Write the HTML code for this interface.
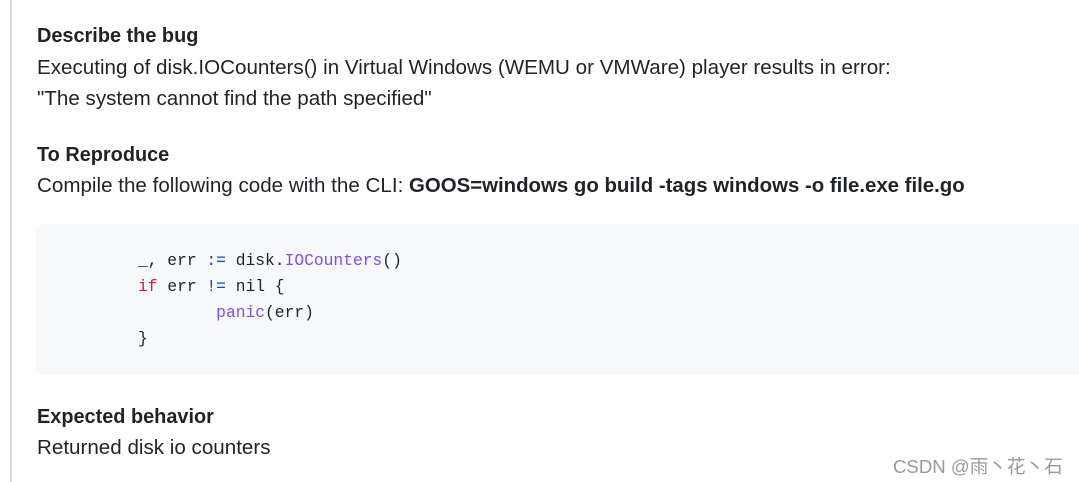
<!DOCTYPE html>
<html><head><meta charset="utf-8"><style>
body{margin:0;width:1079px;height:482px;background:#fff;position:relative;overflow:hidden;font-family:"Liberation Sans",sans-serif;color:#1f2328}
.bar{position:absolute;left:10px;top:0;width:2px;height:482px;background:#d0d7de}
.t{position:absolute;left:37px;font-size:20.6px;white-space:nowrap;line-height:24px}
.h{font-weight:bold;font-size:19.9px}
.code{position:absolute;left:36px;top:224px;width:1060px;height:151px;background:#f6f8fa;border-radius:6px}
.c{position:absolute;left:138px;font-family:"Liberation Mono",monospace;font-size:16.3px;white-space:pre;line-height:20px}
.r{color:#cf222e}.p{color:#8250df}.bl{color:#0550ae}
.wm{position:absolute;left:893px;top:452px;font-size:18.6px;color:#999;font-family:"Liberation Sans","Noto Sans CJK SC",sans-serif}
</style></head><body>
<div class="bar"></div>
<div class="t h" style="top:24px">Describe the bug</div>
<div class="t" style="top:56px">Executing of disk.IOCounters() in Virtual Windows (WEMU or VMWare) player results in error:</div>
<div class="t" style="top:87px">"The system cannot find the path specified"</div>
<div class="t h" style="top:143px">To Reproduce</div>
<div class="t" style="top:174px">Compile the following code with the CLI: <b style="font-size:20.4px">GOOS=windows go build -tags windows -o file.exe file.go</b></div>
<div class="code"></div>
<div class="c" style="top:251px">_, err <span class="bl">:=</span> disk.<span class="p">IOCounters</span>()</div>
<div class="c" style="top:277px"><span class="r">if</span> err <span class="bl">!=</span> nil {</div>
<div class="c" style="top:303px">        <span class="p">panic</span>(err)</div>
<div class="c" style="top:329px">}</div>
<div class="t h" style="top:405px">Expected behavior</div>
<div class="t" style="top:436px">Returned disk io counters</div>
<div class="wm">CSDN @雨丶花丶石</div>
</body></html>
